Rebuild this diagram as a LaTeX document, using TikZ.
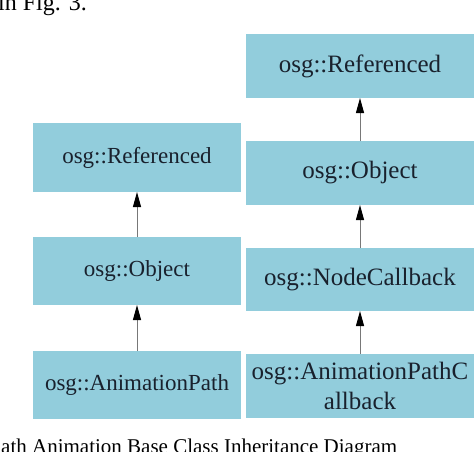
\documentclass[tikz,border=0pt]{standalone}
\usepackage{fontspec}
\setmainfont{Liberation Serif}
\usepackage{xcolor}
\usetikzlibrary{arrows.meta}

\definecolor{boxblue}{RGB}{146,205,220}
\definecolor{boxtext}{RGB}{25,33,45}
\definecolor{linkgray}{RGB}{120,120,120}

\tikzset{
  leftclass/.style={fill=boxblue,text=boxtext,minimum width=208pt,minimum height=68pt,
    inner sep=0pt,outer sep=0pt,font=\fontsize{23}{28}\selectfont},
  rightclass/.style={fill=boxblue,text=boxtext,minimum width=228pt,minimum height=64pt,
    inner sep=0pt,outer sep=0pt,align=center,font=\fontsize{25}{30}\selectfont},
  inherit/.style={draw=linkgray,line width=1pt,-{Triangle[length=15pt,width=8pt,black]}}
}

\begin{document}
\begin{tikzpicture}[x=1pt,y=-1pt]

\useasboundingbox (0,0) rectangle (474,452);
\clip (0,0) rectangle (474,452);

% text round the figure
\node[anchor=base west,inner sep=0pt,font=\fontsize{24}{28}\selectfont] (figref) at (-2,11) {in Fig. 3.};
\node[anchor=base west,inner sep=0pt,font=\fontsize{21}{25}\selectfont] (caption) at (1,453) {ath Animation Base Class Inheritance Diagram};

% left column
\node[leftclass,minimum height=69pt] (lref) at (137,157.5) {osg::Referenced};
\node[leftclass] (lobj) at (137,271) {osg::Object};
\node[leftclass] (lpath) at (137,385) {osg::AnimationPath};

% right column
\node[rightclass] (rref) at (360,66) {osg::Referenced};
\node[rightclass] (robj) at (360,173) {osg::Object};
\node[rightclass,minimum height=63pt] (rnode) at (360,279.5) {osg::NodeCallback};
\node[rightclass] (rpath) at (360,386) {osg::AnimationPathC\\allback};

\draw[inherit] (lobj.north) -- (lref.south);
\draw[inherit] (lpath.north) -- (lobj.south);

\draw[inherit] (robj.north) -- (rref.south);
\draw[inherit] (rnode.north) -- (robj.south);
\draw[inherit] (rpath.north) -- (rnode.south);

\end{tikzpicture}
\end{document}
